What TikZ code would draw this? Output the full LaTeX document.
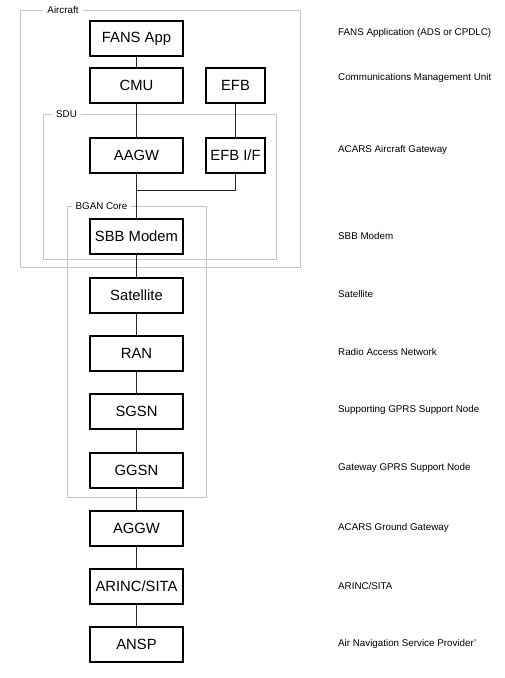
\documentclass[tikz,border=0pt]{standalone}
\usepackage{fontspec}
\setmainfont{Liberation Sans}
\definecolor{grp}{HTML}{C4C4C4}
\begin{document}
\begin{tikzpicture}[x=1pt,y=-1pt,
  box/.style={draw=black,line width=1.4pt,minimum height=35pt,inner sep=0pt,font=\fontsize{14.8}{16}\selectfont},
  mainbox/.style={box,minimum width=93pt},
  sidebox/.style={box,minimum width=59pt},
  conn/.style={draw=black!85,line width=0.9pt},
  grpline/.style={draw=grp,line width=0.9pt},
  grplabel/.style={fill=white,inner xsep=4pt,inner ysep=1pt,font=\fontsize{9.8}{11}\selectfont},
  desc/.style={anchor=west,inner sep=0pt,font=\fontsize{9.8}{11}\selectfont}]
\useasboundingbox (0,0) rectangle (505,678);
% group frames
\draw[grpline] (20,10) rectangle (300,267);
\draw[grpline] (43,114) rectangle (276,259);
\draw[grpline] (67,206) rectangle (206,497);
\node[grplabel] (lac) at (63,10) {Aircraft};
\node[grplabel] (lsdu) at (66.5,114) {SDU};
\node[grplabel] (lbgan) at (101.5,206) {BGAN Core};
% nodes
\node[mainbox] (fans) at (136.5,38.5) {FANS App};
\node[mainbox] (cmu) at (136.5,85.5) {CMU};
\node[sidebox] (efb) at (235.5,85.5) {EFB};
\node[mainbox] (aagw) at (136.5,155.5) {AAGW};
\node[sidebox] (efbif) at (235.5,155.5) {EFB I/F};
\node[mainbox] (sbb) at (136.5,236.5) {SBB Modem};
\node[mainbox] (sat) at (136.5,295.5) {Satellite};
\node[mainbox] (ran) at (136.5,353.5) {RAN};
\node[mainbox] (sgsn) at (136.5,411.5) {SGSN};
\node[mainbox] (ggsn) at (136.5,470.5) {GGSN};
\node[mainbox] (aggw) at (136.5,528.5) {AGGW};
\node[mainbox] (arinc) at (136.5,586.5) {ARINC/SITA};
\node[mainbox] (ansp) at (136.5,644.5) {ANSP};
\coordinate (j) at (136.5,190);
% connectors
\draw[conn] (fans) -- (cmu);
\draw[conn] (cmu) -- (aagw);
\draw[conn] (efb) -- (efbif);
\draw[conn] (aagw) -- (sbb);
\draw[conn] (efbif.south) |- (j);
\draw[conn] (sbb) -- (sat);
\draw[conn] (sat) -- (ran);
\draw[conn] (ran) -- (sgsn);
\draw[conn] (sgsn) -- (ggsn);
\draw[conn] (ggsn) -- (aggw);
\draw[conn] (aggw) -- (arinc);
\draw[conn] (arinc) -- (ansp);
% descriptions
\node[desc] (d1) at (338,33) {FANS Application (ADS or CPDLC)};
\node[desc] (d2) at (338,78) {Communications Management Unit};
\node[desc] (d3) at (338,150) {ACARS Aircraft Gateway};
\node[desc] (d4) at (338,236) {SBB Modem};
\node[desc] (d5) at (338,294) {Satellite};
\node[desc] (d6) at (338,352) {Radio Access Network};
\node[desc] (d7) at (338,410) {Supporting GPRS Support Node};
\node[desc] (d8) at (338,468) {Gateway GPRS Support Node};
\node[desc] (d9) at (338,528) {ACARS Ground Gateway};
\node[desc] (d10) at (338,586) {ARINC/SITA};
\node[desc] (d11) at (338,644) {Air Navigation Service Provider'};
\end{tikzpicture}
\end{document}
